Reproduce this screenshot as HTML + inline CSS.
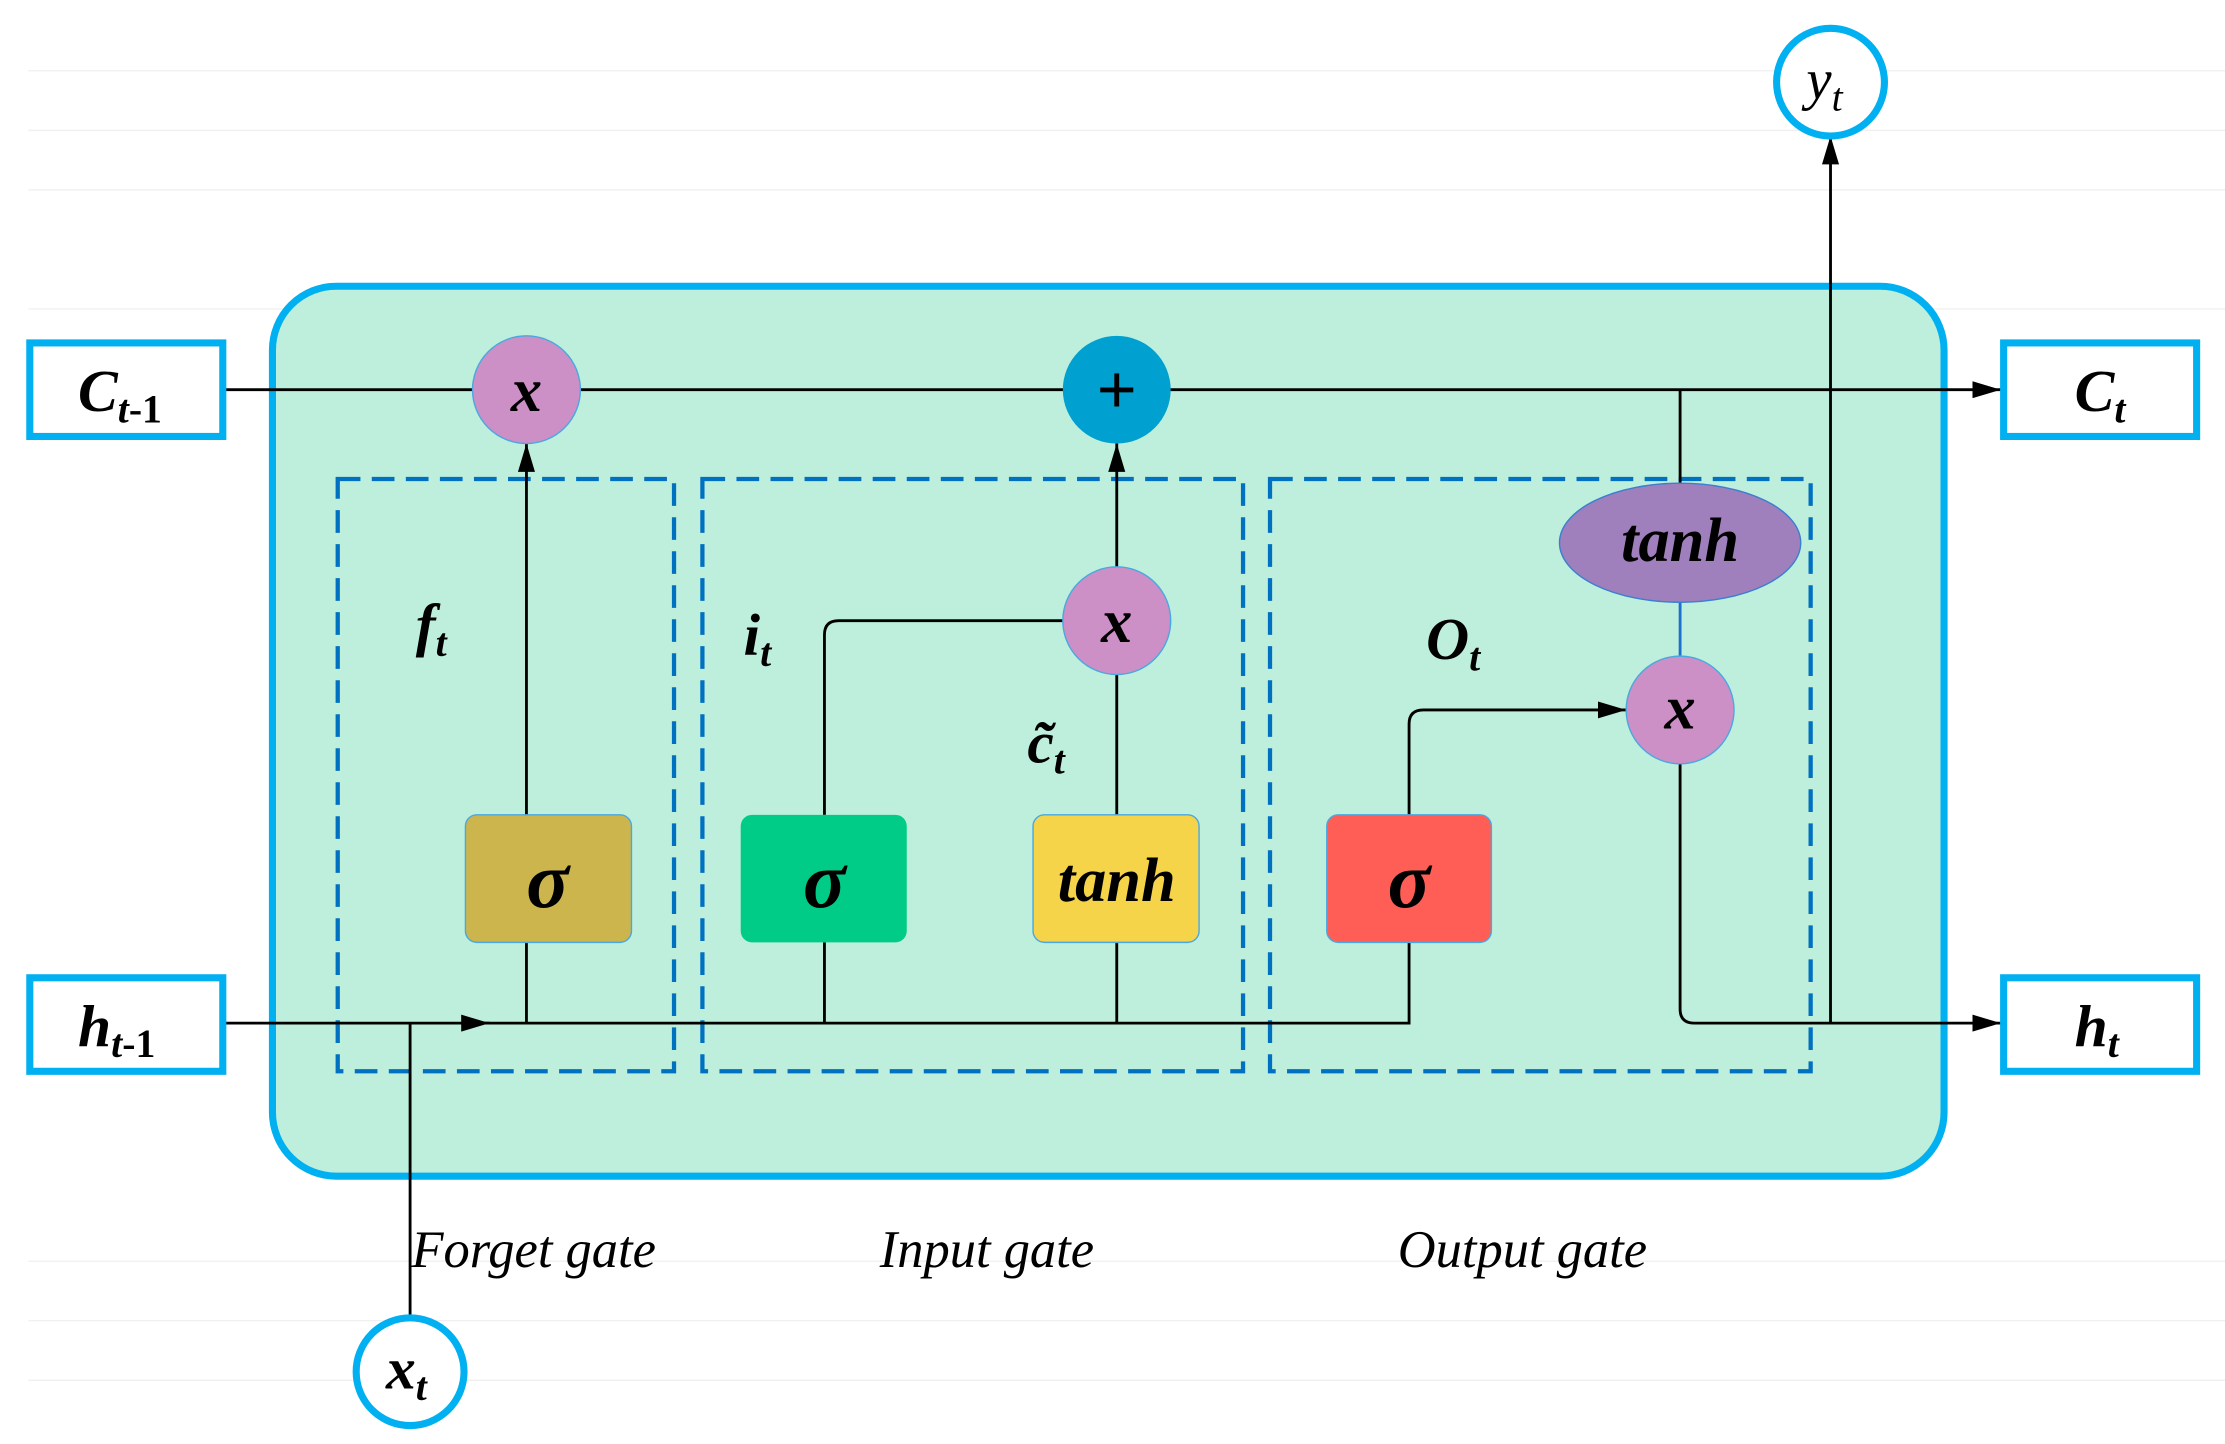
<!DOCTYPE html>
<html><head><meta charset="utf-8"><style>
html,body{margin:0;padding:0;background:#fff;width:2225px;height:1444px;overflow:hidden}
svg{display:block}
.b{font-family:"Liberation Serif",serif;font-style:italic;font-weight:bold}
.i{font-family:"Liberation Serif",serif;font-style:italic}
</style></head><body>
<svg width="2225" height="1444" viewBox="0 0 1568 1019" preserveAspectRatio="none" xmlns="http://www.w3.org/2000/svg">
<defs>
<marker id="ar" viewBox="0 0 20 12" markerWidth="20" markerHeight="12" refX="20" refY="6" orient="auto" markerUnits="userSpaceOnUse"><path d="M0,0 L20,6 L0,12 z" fill="#000"/></marker></defs>
<g stroke="#f0f0f0" stroke-width="1">
<line x1="20" y1="50" x2="1568" y2="50"/><line x1="20" y1="92" x2="1568" y2="92"/><line x1="20" y1="134" x2="1568" y2="134"/><line x1="20" y1="218" x2="1568" y2="218"/>
<line x1="20" y1="890" x2="1568" y2="890"/><line x1="20" y1="932" x2="1568" y2="932"/><line x1="20" y1="974" x2="1568" y2="974"/>
</g>
<rect x="192" y="202" width="1178" height="628" rx="45" fill="#bdefdc" stroke="#00b0f0" stroke-width="5"/>
<g fill="none" stroke="#0070c0" stroke-width="3" stroke-dasharray="16,8">
<rect x="238" y="338" width="237" height="418"/>
<rect x="495" y="338" width="381" height="418"/>
<rect x="895" y="338" width="381" height="418"/>
</g>
<g fill="none" stroke="#000" stroke-width="2">
<line x1="157" y1="275" x2="1410" y2="275" marker-end="url(#ar)"/>
<line x1="157" y1="722" x2="345" y2="722" marker-end="url(#ar)"/>
<polyline points="340,722 993,722 993,665"/>
<line x1="371" y1="575" x2="371" y2="313" marker-end="url(#ar)"/>
<line x1="371" y1="722" x2="371" y2="665"/>
<line x1="581" y1="722" x2="581" y2="665"/>
<path d="M581,575 L581,448 Q581,438 591,438 L750,438"/>
<line x1="787" y1="722" x2="787" y2="665"/>
<line x1="787" y1="575" x2="787" y2="476"/>
<line x1="787" y1="400" x2="787" y2="313" marker-end="url(#ar)"/>
<path d="M993,575 L993,511 Q993,501 1003,501 L1146,501" marker-end="url(#ar)"/>
<line x1="1184" y1="275" x2="1184" y2="341"/>
<path d="M1184,539 L1184,712 Q1184,722 1194,722 L1410,722" marker-end="url(#ar)"/>
<line x1="1290" y1="722" x2="1290" y2="96" marker-end="url(#ar)"/>
<line x1="289" y1="930" x2="289" y2="722"/>
</g>
<line x1="1184" y1="425" x2="1184" y2="463" stroke="#1f6fd0" stroke-width="2"/>
<g fill="#fff" stroke="#00b0f0" stroke-width="5">
<rect x="21" y="242" width="136" height="66"/><rect x="21" y="690" width="136" height="66"/>
<rect x="1412" y="242" width="136" height="66"/><rect x="1412" y="690" width="136" height="66"/>
<circle cx="1290" cy="58" r="38"/><circle cx="289" cy="968" r="38"/>
</g>
<g stroke="#4aa8e0" stroke-width="1">
<rect x="328" y="575" width="117" height="90" rx="8" fill="#cdb54d"/>
<rect x="522" y="575" width="117" height="90" rx="8" fill="#00cc88" stroke="none"/>
<rect x="728" y="575" width="117" height="90" rx="8" fill="#f5d44a"/>
<rect x="935" y="575" width="116" height="90" rx="8" fill="#fe5e55"/>
<circle cx="371" cy="275" r="38" fill="#cc8fc6"/>
<circle cx="787" cy="438" r="38" fill="#cc8fc6"/>
<circle cx="1184" cy="501" r="38" fill="#cc8fc6"/>
<circle cx="787" cy="275" r="38" fill="#00a0d0" stroke="none"/>
<ellipse cx="1184" cy="383" rx="85" ry="42" fill="#a07fbd" stroke="#3a7fd0"/>
</g>
<g class="b" font-size="44" text-anchor="middle">
<text x="371" y="290">x</text><text x="787" y="453">x</text><text x="1184" y="514">x</text>
<text x="787" y="291" font-style="normal" font-weight="normal" font-family="Liberation Sans,sans-serif" font-size="48">+</text>
<g font-size="56"><text x="386" y="640">σ</text><text x="581" y="640">σ</text><text x="993" y="640">σ</text></g>
<text x="787" y="636">tanh</text><text x="1184" y="396">tanh</text>
</g>
<g class="b" font-size="42">
<text x="55" y="290">C<tspan font-size="28" dy="8">t</tspan><tspan font-size="28" font-style="normal">-1</tspan></text>
<text x="55" y="738">h<tspan font-size="28" dy="8">t</tspan><tspan font-size="28" font-style="normal">-1</tspan></text>
<text x="1462" y="290">C<tspan font-size="28" dy="8">t</tspan></text>
<text x="1462" y="738">h<tspan font-size="28" dy="8">t</tspan></text>
<text x="272" y="980">x<tspan font-size="28" dy="8">t</tspan></text>
<text x="293" y="455">f<tspan font-size="28" dy="8">t</tspan></text>
<text x="524" y="462">i<tspan font-size="28" dy="8">t</tspan></text>
<text x="724" y="538">c̃<tspan font-size="28" dy="8">t</tspan></text>
<text x="1005" y="465">O<tspan font-size="28" dy="8">t</tspan></text>
</g>
<text x="1273" y="70" class="i" font-size="40">y<tspan font-size="28" dy="8">t</tspan></text>
<g class="i" font-size="37">
<text x="290" y="894">Forget gate</text><text x="620" y="894">Input gate</text><text x="985" y="894">Output gate</text>
</g>
</svg>
</body></html>
